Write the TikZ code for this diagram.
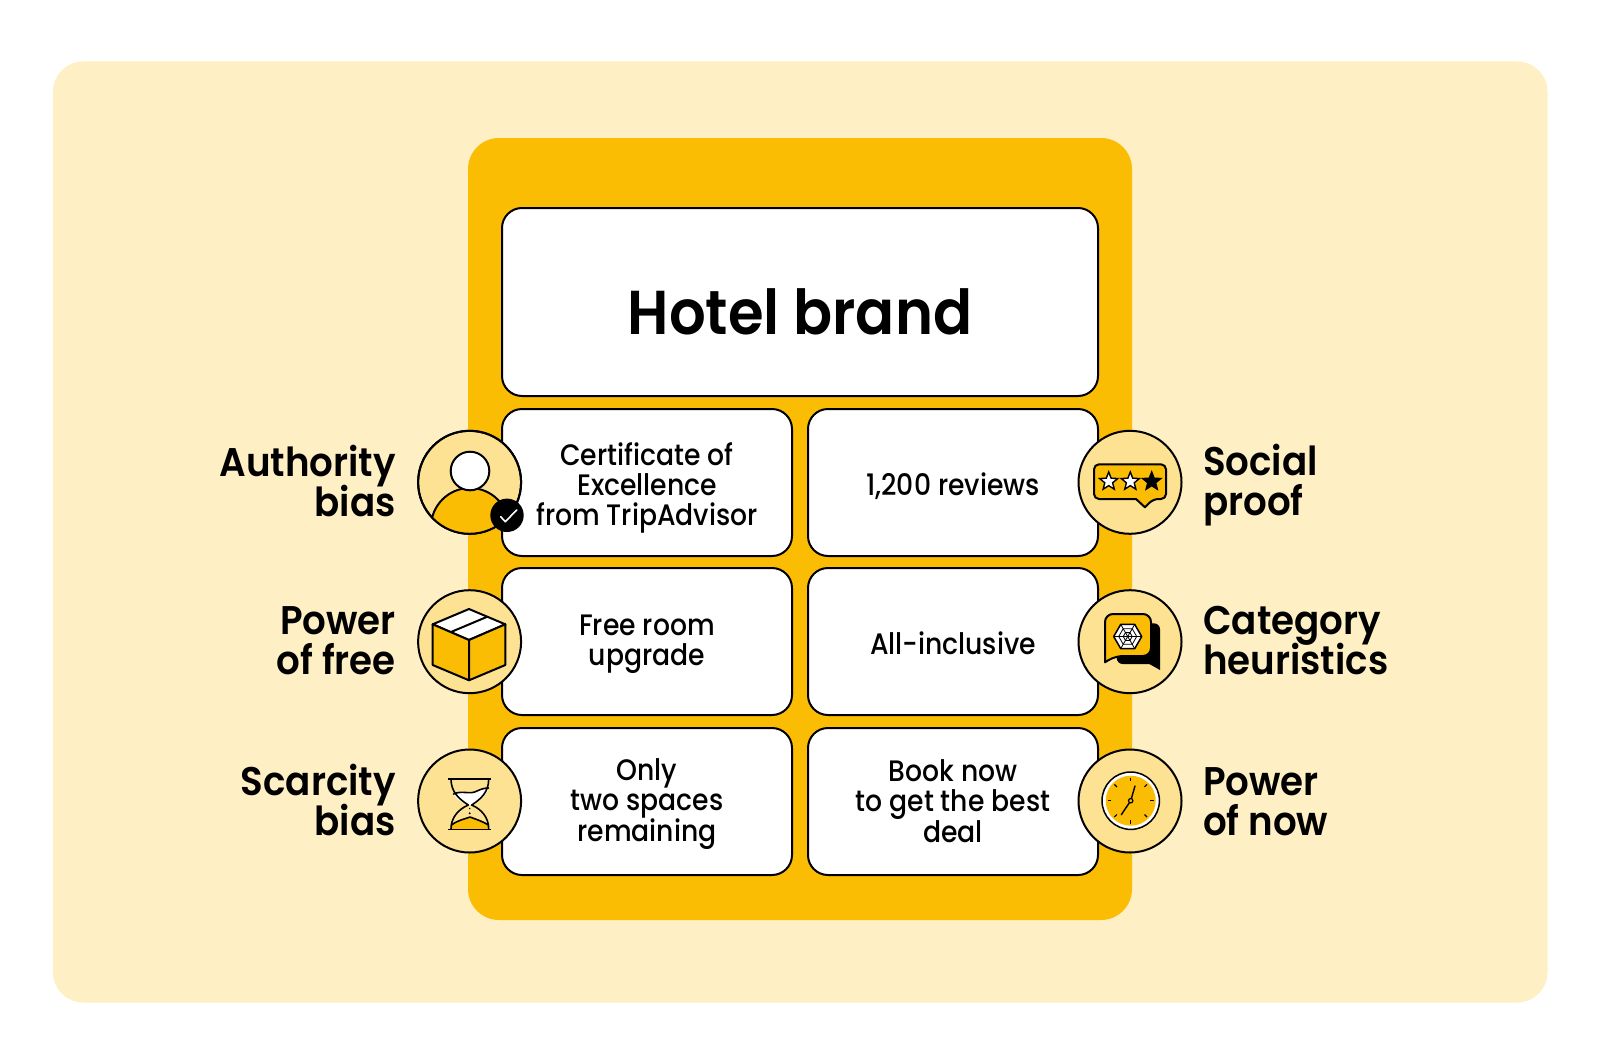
\documentclass[tikz,border=0pt]{standalone}
\usepackage{fontspec}
\usetikzlibrary{shapes.geometric}
\newfontfamily\gsmed{Poppins}[UprightFont={* Medium},FakeStretch=0.9]
\newfontfamily\gssemi{Poppins}[UprightFont={* SemiBold},FakeStretch=0.93]
\definecolor{paleY}{HTML}{FEF0C4}
\definecolor{deepY}{HTML}{FBBC04}
\definecolor{midY}{HTML}{FDE293}
\newcommand\cardfont{\gsmed\fontsize{29.6}{30.3}\selectfont\setlength{\lineskiplimit}{-100pt}}
\newcommand\labfont{\gssemi\fontsize{40}{40}\selectfont\setlength{\lineskiplimit}{-100pt}}
\tikzset{
  x=1pt,y=-1pt,
  ink/.style={line width=2pt,draw=black,line join=round},
  cardbox/.style={ink,fill=white,rounded corners=20pt,inner sep=0pt},
  smallcard/.style={cardbox,minimum width=290pt,minimum height=147pt},
  disc/.style={circle,ink,fill=midY,minimum size=103pt,inner sep=0pt},
  cardtext/.style={font=\cardfont,align=center,inner sep=0pt},
  labL/.style={font=\labfont,align=right,anchor=east,inner sep=0pt},
  labR/.style={font=\labfont,align=left,anchor=west,inner sep=0pt},
  thin/.style={line width=1.6pt,draw=black,line join=round,line cap=round},
  staricon/.style={star,star points=5,star point ratio=2.3,minimum size=19pt,inner sep=0pt,line width=1.4pt,draw=black},
}
\begin{document}
\begin{tikzpicture}
\useasboundingbox (0,0) rectangle (1600,1057);
\fill[paleY,rounded corners=30pt] (53,61.5) rectangle (1547.5,1002.5);
\fill[deepY,rounded corners=31pt] (468,138) rectangle (1132,920);
% cards
\node[cardbox,minimum width=596pt,minimum height=188pt] (top) at (800,302) {};
\node[font=\gssemi\fontsize{62}{62}\selectfont,inner sep=0pt] (toptext) at (800,312) {Hotel brand};
\node[smallcard] (c11) at (647,482.5) {};
\node[smallcard] (c12) at (953,482.5) {};
\node[smallcard] (c21) at (647,641.5) {};
\node[smallcard] (c22) at (953,641.5) {};
\node[smallcard] (c31) at (647,801.5) {};
\node[smallcard] (c32) at (953,801.5) {};
\node[cardtext] (t11) at (647,488) {Certificate of\\Excellence\\from TripAdvisor};
\node[cardtext] (t12) at (953,486) {1,200 reviews};
\node[cardtext] (t21) at (647,644) {Free room\\upgrade};
\node[cardtext] (t22) at (953,643.5) {All-inclusive};
\node[cardtext] (t31) at (647,804) {Only\\two spaces\\remaining};
\node[cardtext] (t32) at (953,801) {Book now\\to get the best\\deal};
% labels
\node[labL] (l1) at (396,481) {Authority\\bias};
\node[labL] (l2) at (396,641) {Power\\of free};
\node[labL] (l3) at (396,800) {Scarcity\\bias};
\node[labR] (r1) at (1203,485) {Social\\proof};
\node[labR] (r2) at (1203,641) {Category\\heuristics};
\node[labR] (r3) at (1203,801.5) {Power\\of now};
% discs
\node[disc] (d1) at (469.6,482.3) {};
\node[disc] (d2) at (469.6,641.7) {};
\node[disc] (d3) at (469.6,801) {};
\node[disc] (d4) at (1130,482.3) {};
\node[disc] (d5) at (1130,641.7) {};
\node[disc] (d6) at (1130,801) {};
% person
\begin{scope}
\clip (469.6,482.3) circle (51.5);
\draw[ink,fill=deepY] (470,527) circle (39);
\end{scope}
\draw[ink] (469.6,482.3) circle (51.5);
\draw[ink,fill=white] (470,471) circle (19.3);
\fill[black] (507,515.3) circle (16.7);
\draw[draw=white,line width=1.6pt,line cap=round,line join=round] (500.7,516.7) -- (505.3,521.7) -- (516.7,510);
% box
\draw[ink,fill=white] (432.7,624.3) -- (469,609) -- (505.3,624.3) -- (469,640) -- cycle;
\draw[ink,fill=deepY] (432.7,624.3) -- (469,640) -- (469,680.3) -- (432.7,665) -- cycle;
\draw[ink,fill=deepY] (505.3,624.3) -- (469,640) -- (469,680.3) -- (505.3,665) -- cycle;
\draw[ink] (451.7,631.7) -- (487.3,616.7);
% hourglass
\fill[white] (453.5,794) .. controls (462,790) and (470,795) .. (477,791) .. controls (481,789) and (485,788) .. (488.5,788) .. controls (487,796) and (476,803) .. (471.7,805) -- (468.3,805) .. controls (462,803) and (456,799) .. (453.5,794) -- cycle;
\fill[deepY] (451.5,825) .. controls (458,820) and (465,819) .. (470,817) .. controls (475,819) and (482,821) .. (488.5,825) -- (489,829) -- (451,829) -- cycle;
\draw[thin] (451,779) .. controls (451,792) and (459,799) .. (468.3,805) .. controls (459,809) and (451,817) .. (451,829);
\draw[thin] (488.7,779) .. controls (488.7,792) and (481,799) .. (471.7,805) .. controls (481,809) and (488.7,817) .. (488.7,829);
\draw[line width=2pt,draw=black] (448.3,779) -- (491.3,779);
\draw[line width=1.6pt,draw=black] (448.3,829.3) -- (491.3,829.3);
\draw[thin] (453.5,794) .. controls (462,790) and (470,795) .. (477,791) .. controls (481,789) and (485,788) .. (488.5,788);
\draw[thin] (451.5,825) .. controls (458,820) and (465,819) .. (470,817) .. controls (475,819) and (482,821) .. (488.5,825);
\fill[black] (469.7,813.3) circle (1.1);
\fill[black] (469.7,808.5) circle (0.8);
% speech bubble with stars
\draw[ink,fill=deepY,rounded corners=5pt] (1094,464.3) -- (1166,464.3) -- (1166,499) -- (1153.3,499) [sharp corners] -- (1145,507.3) -- (1136,499) [rounded corners=5pt] -- (1094,499) -- cycle;
\node[staricon,fill=white] (s1) at (1108.7,481.5) {};
\node[staricon,fill=white] (s2) at (1130.3,481.5) {};
\node[staricon,fill=black] (s3) at (1151.7,481.5) {};
% category
\fill[black,rounded corners=6pt] (1120,623.3) -- (1160,623.3) -- (1160,640) [sharp corners] -- (1160,670) -- (1149.3,664) [rounded corners=6pt] -- (1116.7,664) -- (1116.7,640) -- cycle;
\draw[ink,fill=deepY,rounded corners=8pt] (1105,662.3) [sharp corners] -- (1105,640) [rounded corners=8pt] -- (1105,614) -- (1151,614) -- (1151,656) -- (1115,656) [sharp corners] -- cycle;
\draw[line width=1.5pt,draw=black,fill=white,line join=round] (1127.7,636.5) ++(0:14) -- ++(120:14) -- ++(180:14) -- ++(240:14) -- ++(300:14) -- ++(0:14) -- cycle;
\foreach \a in {0,60,120} {\draw[line width=0.8pt] (1127.7,636.5) ++(\a:14) -- ++(\a+180:28);}
\draw[line width=0.8pt] (1127.7,636.5) ++(0:9) -- ++(120:9) -- ++(180:9) -- ++(240:9) -- ++(300:9) -- ++(0:9) -- cycle;
\draw[line width=0.8pt] (1127.7,636.5) ++(0:4.5) -- ++(120:4.5) -- ++(180:4.5) -- ++(240:4.5) -- ++(300:4.5) -- ++(0:4.5) -- cycle;
% clock
\draw[line width=1.5pt,draw=black,fill=white] (1130.7,800.7) circle (28.7);
\fill[deepY] (1130.7,800.7) circle (25);
\foreach \a in {0,45,...,315} {\draw[line width=1.1pt] (1130.7,800.7) ++(\a:19.5) -- ++(\a:3.6);}
\draw[line width=1.4pt,line cap=round] (1135,786) -- (1130.7,800.7) -- (1121.3,814.7);
\draw[line width=1.2pt,fill=deepY] (1130.7,800.7) circle (2.2);
\end{tikzpicture}
\end{document}
